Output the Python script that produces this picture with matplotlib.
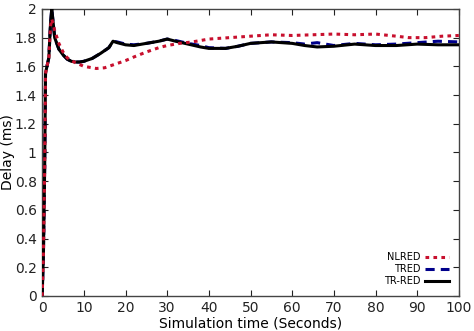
import matplotlib
matplotlib.use("Agg")
import matplotlib.pyplot as plt
from matplotlib.ticker import FormatStrFormatter, MultipleLocator

# time (s) / delay (ms)
t_trred = [0, 0.3, 0.6, 0.8, 1.0, 1.3, 1.6, 2.0, 2.3, 3, 4, 5, 6, 7, 8, 9, 10,
           12, 14, 16, 17, 18, 20, 22, 25, 28, 30, 32, 35, 38, 40, 44, 47, 50,
           55, 60, 63, 66, 70, 75, 80, 85, 90, 95, 100]
d_trred = [0, 0.3, 0.9, 1.55, 1.58, 1.62, 1.66, 1.9, 2.0, 1.8, 1.72, 1.68, 1.65,
           1.635, 1.63, 1.63, 1.635, 1.655, 1.69, 1.73, 1.775, 1.765, 1.75,
           1.745, 1.76, 1.775, 1.79, 1.775, 1.755, 1.735, 1.725, 1.725, 1.74,
           1.76, 1.77, 1.76, 1.745, 1.735, 1.74, 1.755, 1.745, 1.745, 1.755,
           1.75, 1.75]

t_tred = [0, 0.3, 0.6, 0.8, 1.0, 1.3, 1.6, 2.0, 2.3, 3, 4, 5, 6, 7, 8, 9, 10,
          12, 14, 16, 17, 18, 20, 22, 25, 28, 30, 32, 35, 38, 40, 44, 47, 50,
          55, 60, 63, 66, 70, 75, 80, 85, 90, 95, 100]
d_tred = [0, 0.3, 0.9, 1.55, 1.58, 1.62, 1.66, 1.9, 2.0, 1.8, 1.72, 1.68, 1.65,
          1.635, 1.63, 1.63, 1.635, 1.655, 1.69, 1.73, 1.775, 1.77, 1.755,
          1.75, 1.76, 1.775, 1.79, 1.78, 1.76, 1.745, 1.73, 1.725, 1.74,
          1.76, 1.77, 1.765, 1.755, 1.765, 1.745, 1.76, 1.75, 1.755, 1.765,
          1.775, 1.77]

t_nlred = [0, 0.3, 0.6, 0.8, 1.0, 1.3, 1.6, 2.0, 2.3, 3, 4, 5, 6, 7, 8, 10, 12,
           13, 15, 18, 20, 22, 25, 28, 30, 33, 36, 40, 45, 50, 55, 60, 65, 70,
           75, 80, 85, 88, 92, 96, 100]
d_nlred = [0, 0.3, 0.9, 1.55, 1.58, 1.62, 1.66, 1.88, 1.93, 1.85, 1.76, 1.7,
           1.66, 1.64, 1.625, 1.6, 1.59, 1.585, 1.59, 1.62, 1.64, 1.665, 1.7,
           1.73, 1.745, 1.76, 1.77, 1.79, 1.8, 1.81, 1.82, 1.815, 1.82, 1.825,
           1.82, 1.825, 1.81, 1.8, 1.8, 1.81, 1.815]


def main() -> None:
    fig = plt.figure(figsize=(4.74, 3.31), dpi=100)
    ax = fig.add_axes([0.089, 0.106, 0.879, 0.867])

    ax.plot(t_nlred, d_nlred, color="#c8102e", linestyle=(0, (1.2, 1.4)),
            linewidth=2.2, label="NLRED", zorder=4)
    ax.plot(t_tred, d_tred, color="#00008b", linestyle=(0, (3, 2)),
            linewidth=2.2, label="TRED", zorder=2)
    ax.plot(t_trred, d_trred, color="black", linewidth=2.2,
            label="TR-RED", zorder=3)

    ax.set_xlim(0, 100)
    ax.set_ylim(0, 2)
    ax.xaxis.set_major_locator(MultipleLocator(10))
    ax.yaxis.set_major_locator(MultipleLocator(0.2))
    ax.yaxis.set_major_formatter(FormatStrFormatter("%g"))
    ax.tick_params(direction="in", top=True, right=True, length=4,
                   labelsize=10, colors="#222222", pad=4)
    for s in ax.spines.values():
        s.set_color("#444444")
        s.set_linewidth(1.0)

    ax.set_xlabel("Simulation time (Seconds)", fontsize=10, labelpad=1)
    ax.set_ylabel("Delay (ms)", fontsize=10)
    ax.yaxis.set_label_coords(-0.066, 0.5)

    ax.legend(loc="lower right", frameon=False, markerfirst=False,
              fontsize=7, handlelength=2.5, handletextpad=0.4,
              labelspacing=0.2, borderaxespad=0.6)

    fig.savefig("out.png", dpi=100)
    plt.close(fig)


if __name__ == "__main__":
    main()
